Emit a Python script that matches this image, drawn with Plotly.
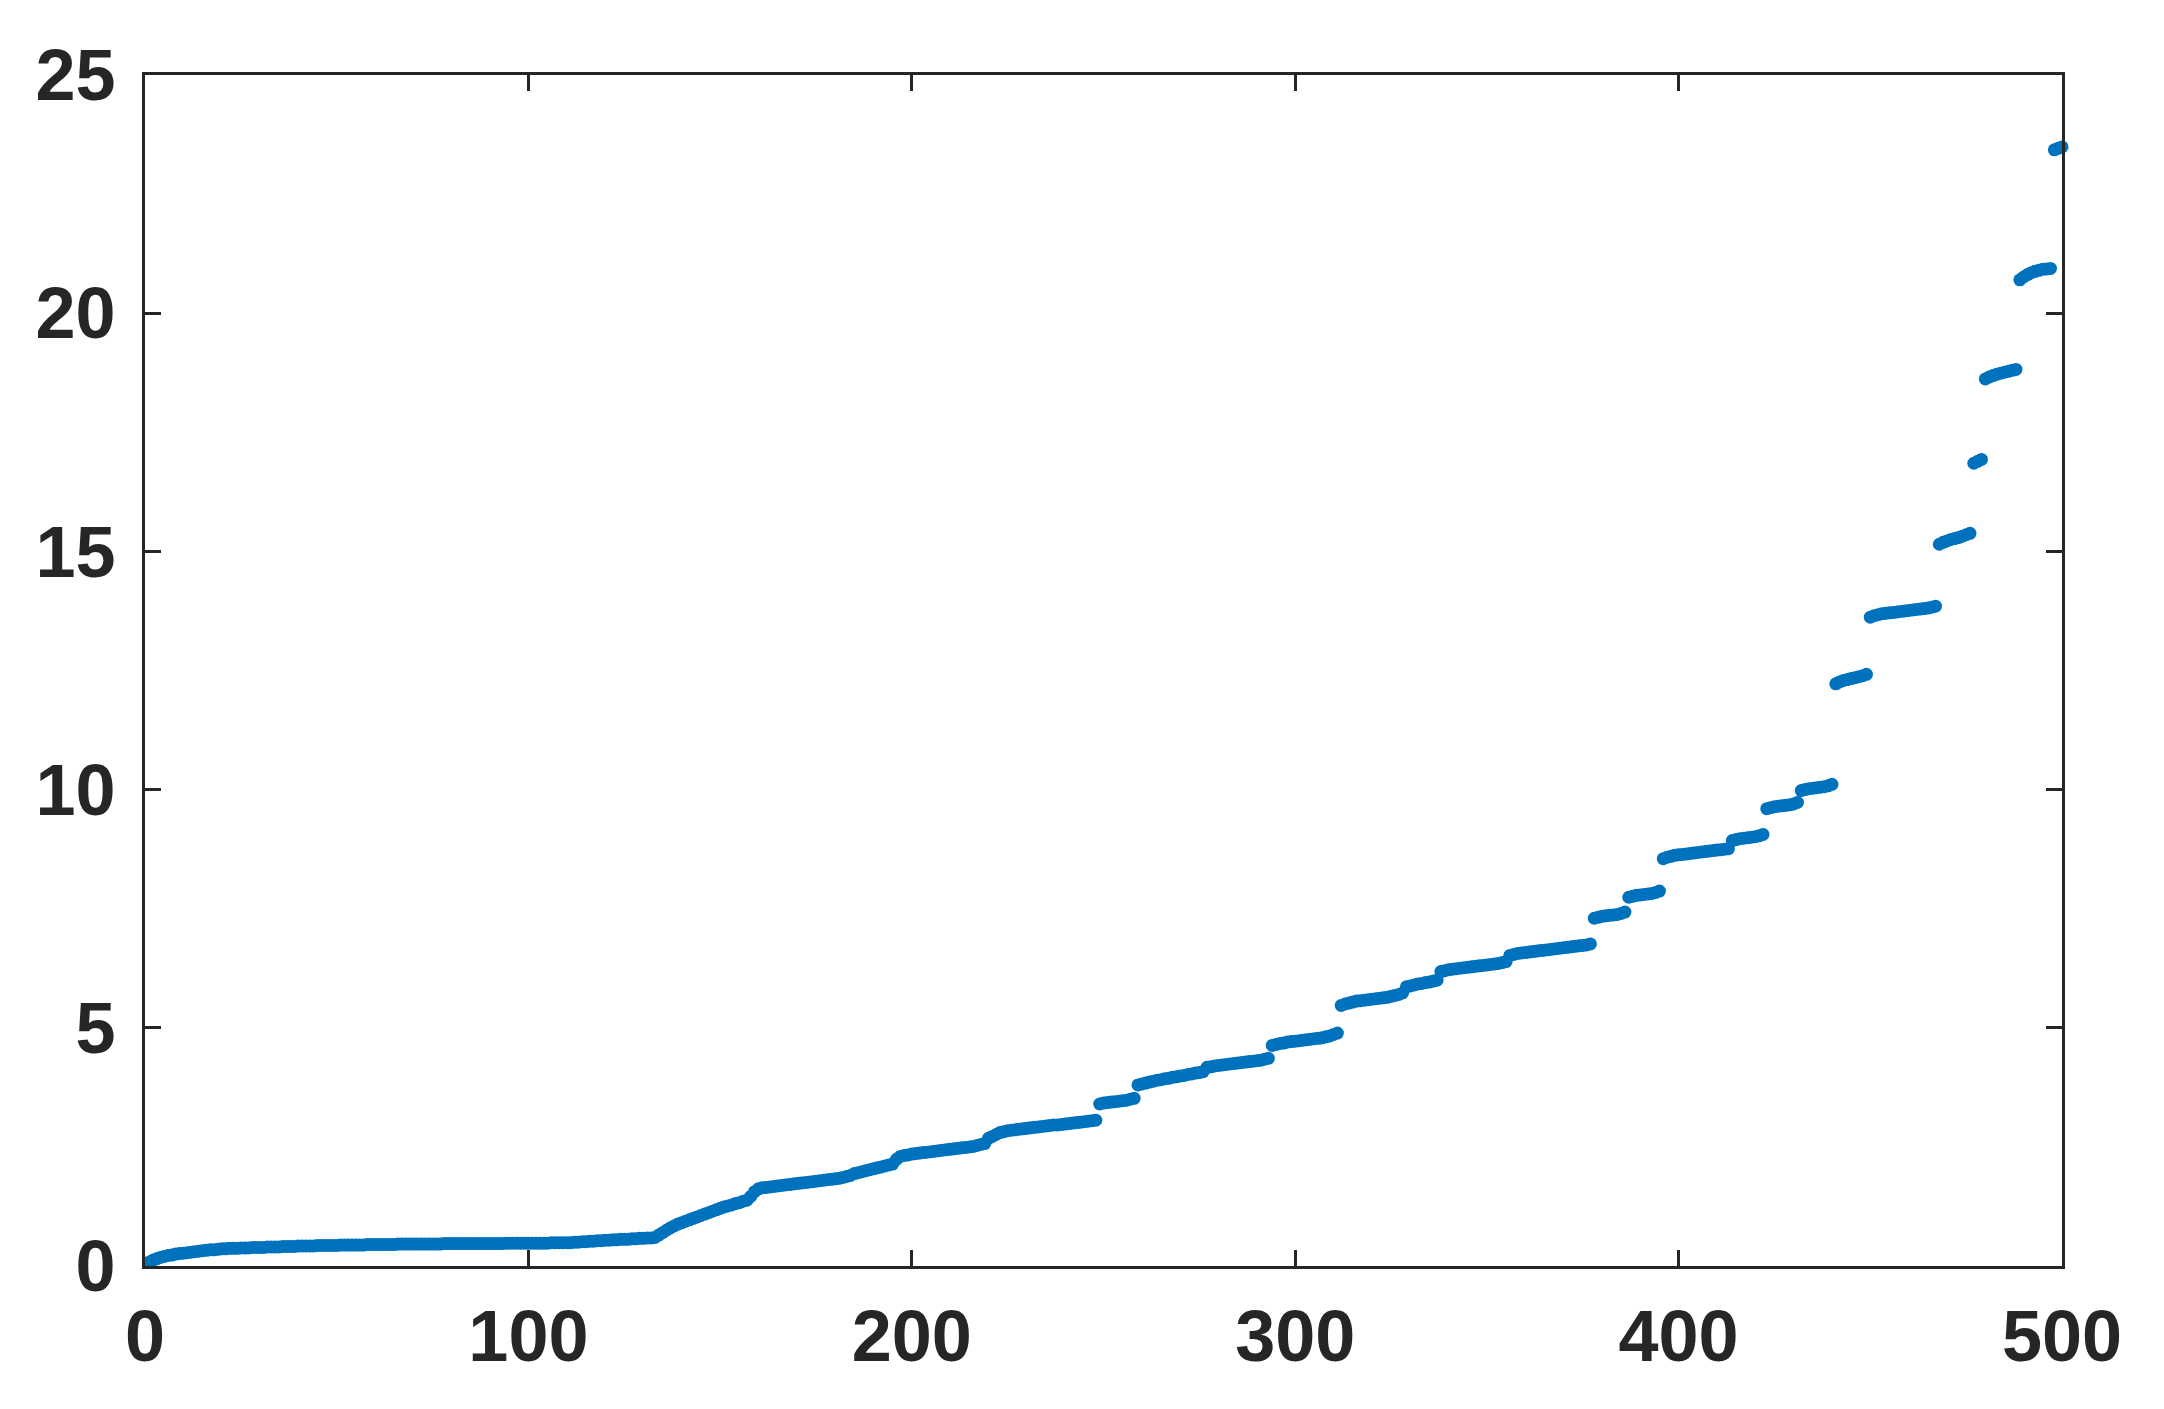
import plotly.graph_objects as go

# Sorted values (x = 1..500)
vals_001_133 = [
    0.08,
    0.12, 0.15, 0.18, 0.20, 0.22,
    0.23, 0.25, 0.26, 0.27, 0.28, 0.29, 0.30, 0.31, 0.32, 0.33, 0.34, 0.34, 0.35, 0.36,
    0.36, 0.37, 0.37, 0.37, 0.38, 0.38, 0.38, 0.39, 0.39, 0.39, 0.39, 0.40, 0.40, 0.40, 0.40, 0.41, 0.41,
    0.41, 0.41, 0.42, 0.42, 0.42, 0.42, 0.42, 0.43, 0.43, 0.43, 0.43, 0.43, 0.43,
    0.44, 0.44, 0.44, 0.44, 0.44, 0.44, 0.44, 0.45, 0.45, 0.45, 0.45, 0.45, 0.45, 0.45, 0.45,
    0.46, 0.46, 0.46, 0.46, 0.46, 0.46, 0.46,
    0.46, 0.46, 0.46, 0.46, 0.46,
    0.47, 0.47, 0.47, 0.47, 0.47, 0.47, 0.47, 0.47, 0.47, 0.47, 0.47, 0.47, 0.47, 0.47, 0.47, 0.47,
    0.48, 0.48, 0.48, 0.48, 0.48, 0.48, 0.48, 0.48, 0.48, 0.48, 0.48, 0.48,
    0.49, 0.49, 0.49, 0.49, 0.49, 0.49,
    0.50, 0.50, 0.51, 0.51, 0.52, 0.52, 0.53, 0.53, 0.54, 0.54, 0.55, 0.55,
    0.56, 0.56, 0.56, 0.57, 0.57, 0.58, 0.58, 0.59, 0.59, 0.60,
]
vals_134_258 = [
    0.65, 0.70, 0.75, 0.80, 0.84, 0.88, 0.91, 0.94, 0.97, 1.00, 1.03, 1.06,
    1.09, 1.12, 1.15, 1.18, 1.21, 1.24, 1.26, 1.28, 1.31, 1.33, 1.36, 1.38,
    1.46, 1.56,
    1.62, 1.64, 1.65, 1.66, 1.67, 1.68, 1.69, 1.70, 1.71, 1.72, 1.73, 1.74, 1.75,
    1.76, 1.77, 1.78, 1.79, 1.80, 1.81, 1.82, 1.83, 1.84, 1.86, 1.88, 1.90,
    1.94, 1.96, 1.98, 2.00, 2.02, 2.04, 2.06, 2.08, 2.10, 2.12, 2.14,
    2.24,
    2.30, 2.32, 2.33, 2.35, 2.36, 2.37, 2.38, 2.39, 2.40, 2.41, 2.42, 2.43,
    2.44, 2.45, 2.46, 2.47, 2.48, 2.49, 2.50, 2.51, 2.53, 2.55, 2.57,
    2.68, 2.72, 2.76, 2.80,
    2.82, 2.84, 2.85, 2.86, 2.87, 2.88, 2.89, 2.90, 2.91, 2.92, 2.93, 2.94, 2.95,
    2.96, 2.96, 2.97, 2.98, 2.99, 3.00, 3.01, 3.02, 3.03, 3.04, 3.05, 3.06,
    3.40, 3.42, 3.43, 3.44, 3.45, 3.46, 3.47, 3.48, 3.50, 3.52,
]
vals_259_377 = [
    3.80, 3.82, 3.84, 3.86, 3.88, 3.90, 3.91, 3.93, 3.94, 3.96, 3.97, 3.99,
    4.00, 4.02, 4.03, 4.05, 4.06, 4.08,
    4.17, 4.18, 4.20, 4.21, 4.22, 4.23, 4.24, 4.25, 4.26, 4.27, 4.28, 4.29,
    4.30, 4.31, 4.32, 4.34, 4.36,
    4.63, 4.65, 4.67, 4.68, 4.70, 4.71, 4.72, 4.73, 4.74, 4.75, 4.76, 4.77,
    4.78, 4.79, 4.81, 4.83, 4.86, 4.89,
    5.47, 5.50, 5.52, 5.54, 5.56, 5.57, 5.58, 5.59, 5.60, 5.61, 5.62, 5.63,
    5.64, 5.66, 5.68, 5.70, 5.73,
    5.86, 5.88, 5.90, 5.92, 5.93, 5.95, 5.96, 5.98, 6.00,
    6.18, 6.20, 6.22, 6.23, 6.24, 6.25, 6.26, 6.27, 6.28, 6.29, 6.30, 6.31,
    6.32, 6.33, 6.34, 6.35, 6.37, 6.39,
    6.52, 6.54, 6.56, 6.57, 6.58, 6.59, 6.60, 6.61, 6.62, 6.63, 6.64, 6.65,
    6.66, 6.67, 6.68, 6.69, 6.70, 6.71, 6.72, 6.73, 6.74, 6.76,
]
vals_378_440 = [
    7.30, 7.32, 7.34, 7.35, 7.36, 7.37, 7.38, 7.40, 7.43,
    7.74, 7.76, 7.78, 7.79, 7.80, 7.81, 7.82, 7.84, 7.87,
    8.55, 8.58, 8.60, 8.62, 8.63, 8.64, 8.65, 8.66, 8.67, 8.68, 8.69, 8.70,
    8.71, 8.72, 8.73, 8.74, 8.75, 8.76,
    8.93, 8.95, 8.97, 8.98, 8.99, 9.00, 9.01, 9.03, 9.06,
    9.60, 9.62, 9.64, 9.65, 9.66, 9.67, 9.68, 9.70, 9.73,
    9.98, 10.00, 10.02, 10.03, 10.04, 10.05, 10.06, 10.08, 10.11,
]
vals_441_500 = [
    12.22, 12.26, 12.29, 12.31, 12.33, 12.35, 12.37, 12.39, 12.42,
    13.62, 13.65, 13.67, 13.69, 13.70, 13.71, 13.72, 13.73, 13.74, 13.75, 13.76,
    13.77, 13.78, 13.79, 13.80, 13.81, 13.83, 13.85,
    15.15, 15.19, 15.22, 15.25, 15.27, 15.29, 15.32, 15.35, 15.38,
    16.85, 16.89, 16.93,
    18.62, 18.66, 18.69, 18.72, 18.74, 18.76, 18.78, 18.80, 18.82,
    20.70, 20.76, 20.81, 20.85, 20.88, 20.90, 20.92, 20.93, 20.94,
    23.43, 23.46, 23.49,
]

x_ticks = [0, 100, 200, 300, 400, 500]
y_ticks = [0, 5, 10, 15, 20, 25]

values = vals_001_133 + vals_134_258 + vals_259_377 + vals_378_440 + vals_441_500
index = list(range(1, len(values) + 1))

AX = "#262626"
tick_font = dict(family="Liberation Sans, Arial, sans-serif", size=72, color=AX, weight="bold")

fig = go.Figure(go.Scatter(
    x=index, y=values, mode="markers",
    marker=dict(size=13, color="#0072BD", line=dict(width=0)),
    cliponaxis=False, showlegend=False,
))

axis_common = dict(
    showline=True, linecolor=AX, linewidth=3, mirror="ticks",
    ticks="inside", ticklen=16, tickwidth=3, tickcolor=AX,
    showgrid=False, zeroline=False, tickfont=tick_font, automargin=False,
)
fig.update_xaxes(range=[0, 500], tickvals=x_ticks, ticktext=[str(t) for t in x_ticks],
                 ticklabelstandoff=6, **axis_common)
fig.update_yaxes(range=[0, 25], tickvals=y_ticks, ticktext=[str(t) for t in y_ticks],
                 ticklabelstandoff=12, **axis_common)

fig.update_layout(
    width=2148, height=1393,
    margin=dict(l=137, r=94, t=67, b=135, pad=0),
    paper_bgcolor="white", plot_bgcolor="white",
)

fig.write_html("out.html")
